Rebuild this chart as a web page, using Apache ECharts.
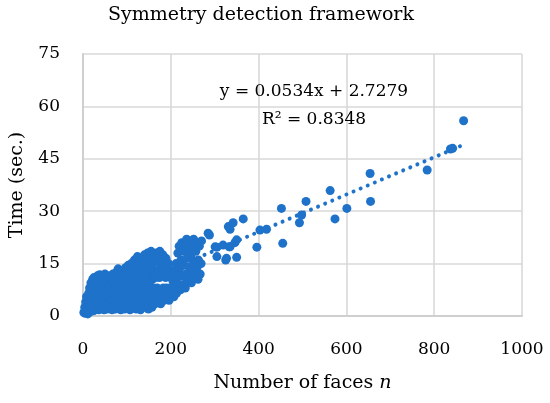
<!DOCTYPE html>
<html>
<head>
<meta charset="utf-8">
<script src="https://cdn.jsdelivr.net/npm/echarts@6/dist/echarts.min.js"></script>
<style>
html,body{margin:0;padding:0;background:#fff;}
#chart{width:550px;height:403px;}
</style>
</head>
<body>
<div id="chart"></div>
<script>
// ---- data (number of faces n, time in seconds) ----
var titleText = 'Symmetry detection framework';
var xTicks = [0, 200, 400, 600, 800, 1000];
var yTicks = [0, 15, 30, 45, 60, 75];
var trendSlope = 0.0534;
var trendIntercept = 2.7279;
var equationText = 'y = 0.0534x + 2.7279';
var r2Text = 'R\u00B2 = 0.8348';

var clusterLow = [
  [2,1],[4,2.5],[5,0.8],[6,4],[8,1.5],[8,5.5],[10,3],[11,0.6],[12,2],[13,6.5],[14,4.5],[15,8],[16,1.2],[17,3.5],[18,9.5],[19,5.5],[20,2.5],[21,7],[22,10.5],[23,4],[24,1.5],[25,11],[26,6],[27,8.5],[28,3],[29,10],[30,5],
  [31,2],[32,7.5],[33,11.5],[34,4.5],[35,9],[36,1.8],[37,6],[38,11.8],[39,3.5],[40,8],[41,10.5],[42,5],[43,2.5],[44,7],[45,11],[46,4],[47,9.5],[48,1.8],[49,6.5],[50,12],[51,3],[52,8.5],[53,10],[54,5.5],[55,2],[56,7.5],[57,11.5],[58,4],[59,9],[60,2.8]
];
var clusterMid = [
  [61,6],[62,10.5],[63,3.5],[64,8],[66,1.8],[67,5],[68,12],[69,9.5],[70,3],[71,7],[72,11],[73,4.5],[74,2],[75,8.5],[76,12.5],[77,6],[78,3.5],[79,10],[80,13.5],[81,5],[82,2.5],[83,8],[84,11.5],[85,6.5],[86,1.8],[87,4],[88,9.5],[89,13],[90,7],[91,3],[92,10.5],[93,5.5],[94,12],[95,2],[96,8],[97,13.8],[98,4.5],[99,6.5],[100,11],
  [101,2.5],[102,9],[103,14.5],[104,5],[105,7.5],[106,12],[107,1.8],[108,10],[109,3.5],[110,15],[111,6],[112,8.5],[113,13],[114,2.5],[115,11],[116,4.5],[117,16],[118,7],[119,9.5],[120,14],[121,2],[122,12],[123,5.5],[124,17],[125,8],[126,10.5],[127,3.5],[128,15],[129,6.5],[130,13],[131,1.8],[132,9],[133,16.5],[134,4.5],[135,11.5],[136,7.5],[137,14.5],[138,2.5],[139,10],[140,17.5],[141,5.5],[142,12.5],[143,8.5],[144,3.5],[145,15.5],[146,6.5],[147,18],[148,11],[149,2],[150,13.5]
];
var clusterHigh = [
  [151,9.5],[152,4.5],[153,16],[154,7],[155,18.5],[156,12],[157,2.5],[158,10.5],[159,15],[160,5.5],[161,8],[162,17.5],[163,13],[164,3.5],[165,11],[166,6.5],[167,18],[168,15.5],[169,8],[170,12],[171,4],[172,16.5],[173,6],[174,11],[175,18.5],[176,13.5],[177,3.5],[178,7.5],[179,15],[180,11.5],[181,5],[182,17.5],[183,8],[184,12.5],[185,4.5],[186,14.5],[187,6.5],[188,11],[189,16.5],[190,8],[191,5],[192,13],[193,11.5],[194,7],[195,15],[196,4.5],[197,12],[198,8],[199,6],[200,11],
  [202,13],[204,7],[205,10],[207,5.5],[209,12.5],[210,8.5],[212,15],[213,6.5],[215,11],[216,18],[218,9],[219,20],[220,13.5],[222,7.5],[223,16],[225,21],[226,11.5],[228,9],[229,18.5],[230,14.5],[232,20.5],[233,8],[235,12],[236,22],[237,16.5],[239,10],[240,19],[242,14],[243,21.5],[244,11],[246,17],[247,9.5],[249,20],[250,13],[252,22],[253,15.5],[255,11],[257,18.5],[258,21],[260,14],[262,10.5],[263,16],[265,20],[267,12],[269,15],[270,21.5]
];
var sparsePoints = [
  [285,23.7],[288,23.2],[301,19.8],[305,17],[305,19.7],[319,20.3],[325,16],[327,16.5],[331,25.6],[333,19.8],[335,24.8],[335,19.8],[342,26.7],[346,21],[350,21.8],[350,16.8],[365,27.8],[396,19.7],[403,24.6],[418,24.8]
];
var farPoints = [
  [452,30.8],[455,20.8],[493,26.7],[498,28.9],[508,32.8],[563,35.9],[574,27.8],[601,30.8],[654,40.8],[655,32.8],[784,41.8],[837,47.8],[842,48],[867,55.9]
];

var allPoints = clusterLow.concat(clusterMid, clusterHigh, sparsePoints, farPoints);
var minX = Infinity, maxX = -Infinity;
allPoints.forEach(function (p) { if (p[0] < minX) minX = p[0]; if (p[0] > maxX) maxX = p[0]; });
var trendData = [[minX, trendSlope * minX + trendIntercept], [maxX, trendSlope * maxX + trendIntercept]];

var BLUE = '#1f72c9';
var FONT = 'DejaVu Serif';
var chart = echarts.init(document.getElementById('chart'), null, {renderer: 'canvas'});
chart.setOption({
  animation: false,
  backgroundColor: '#ffffff',
  grid: {left: 83, right: 28, top: 54, bottom: 87, containLabel: false},
  xAxis: {
    type: 'value', min: xTicks[0], max: xTicks[xTicks.length - 1], interval: 200,
    name: '{a|Number of faces }{b|n}', nameLocation: 'middle', nameGap: 58,
    nameTextStyle: {rich: {a: {fontFamily: FONT, fontSize: 19, color: '#000'}, b: {fontFamily: FONT, fontSize: 19, fontStyle: 'italic', color: '#000'}}},
    axisLine: {show: true, lineStyle: {color: '#cfcfcf', width: 2}},
    axisTick: {show: false},
    axisLabel: {fontFamily: FONT, fontSize: 17, color: '#000', margin: 25, formatter: function (v) { return String(v); }},
    splitLine: {show: true, lineStyle: {color: '#d9d9d9', width: 1.6}}
  },
  yAxis: {
    type: 'value', min: yTicks[0], max: yTicks[yTicks.length - 1], interval: 15,
    name: 'Time (sec.)', nameLocation: 'middle', nameGap: 56,
    nameTextStyle: {fontFamily: FONT, fontSize: 19, color: '#000'},
    axisLine: {show: true, lineStyle: {color: '#cfcfcf', width: 2}},
    axisTick: {show: false},
    axisLabel: {fontFamily: FONT, fontSize: 17, color: '#000', margin: 23, formatter: function (v) { return String(v); }},
    splitLine: {show: true, lineStyle: {color: '#d9d9d9', width: 1.6}}
  },
  graphic: [
    {type: 'text', x: 261, y: 15, style: {text: titleText, fontFamily: FONT, fontSize: 19, fill: '#000', textAlign: 'center', textVerticalAlign: 'middle'}},
    {type: 'text', x: 314, y: 92, z: 10, style: {text: equationText, fontFamily: FONT, fontSize: 17, fill: '#000', textAlign: 'center', textVerticalAlign: 'middle'}},
    {type: 'text', x: 314, y: 120, z: 10, style: {text: r2Text, fontFamily: FONT, fontSize: 17, fill: '#000', textAlign: 'center', textVerticalAlign: 'middle'}}
  ],
  series: [
    {
      type: 'scatter', data: allPoints, symbol: 'circle', symbolSize: 9,
      itemStyle: {color: BLUE, opacity: 1, borderWidth: 0, borderColor: BLUE}, z: 2
    },
    {
      type: 'line', data: trendData, showSymbol: false, symbol: 'none', z: 3,
      lineStyle: {color: BLUE, width: 4, type: [0.01, 7.7], cap: 'round'}
    }
  ]
});
</script>
</body>
</html>
